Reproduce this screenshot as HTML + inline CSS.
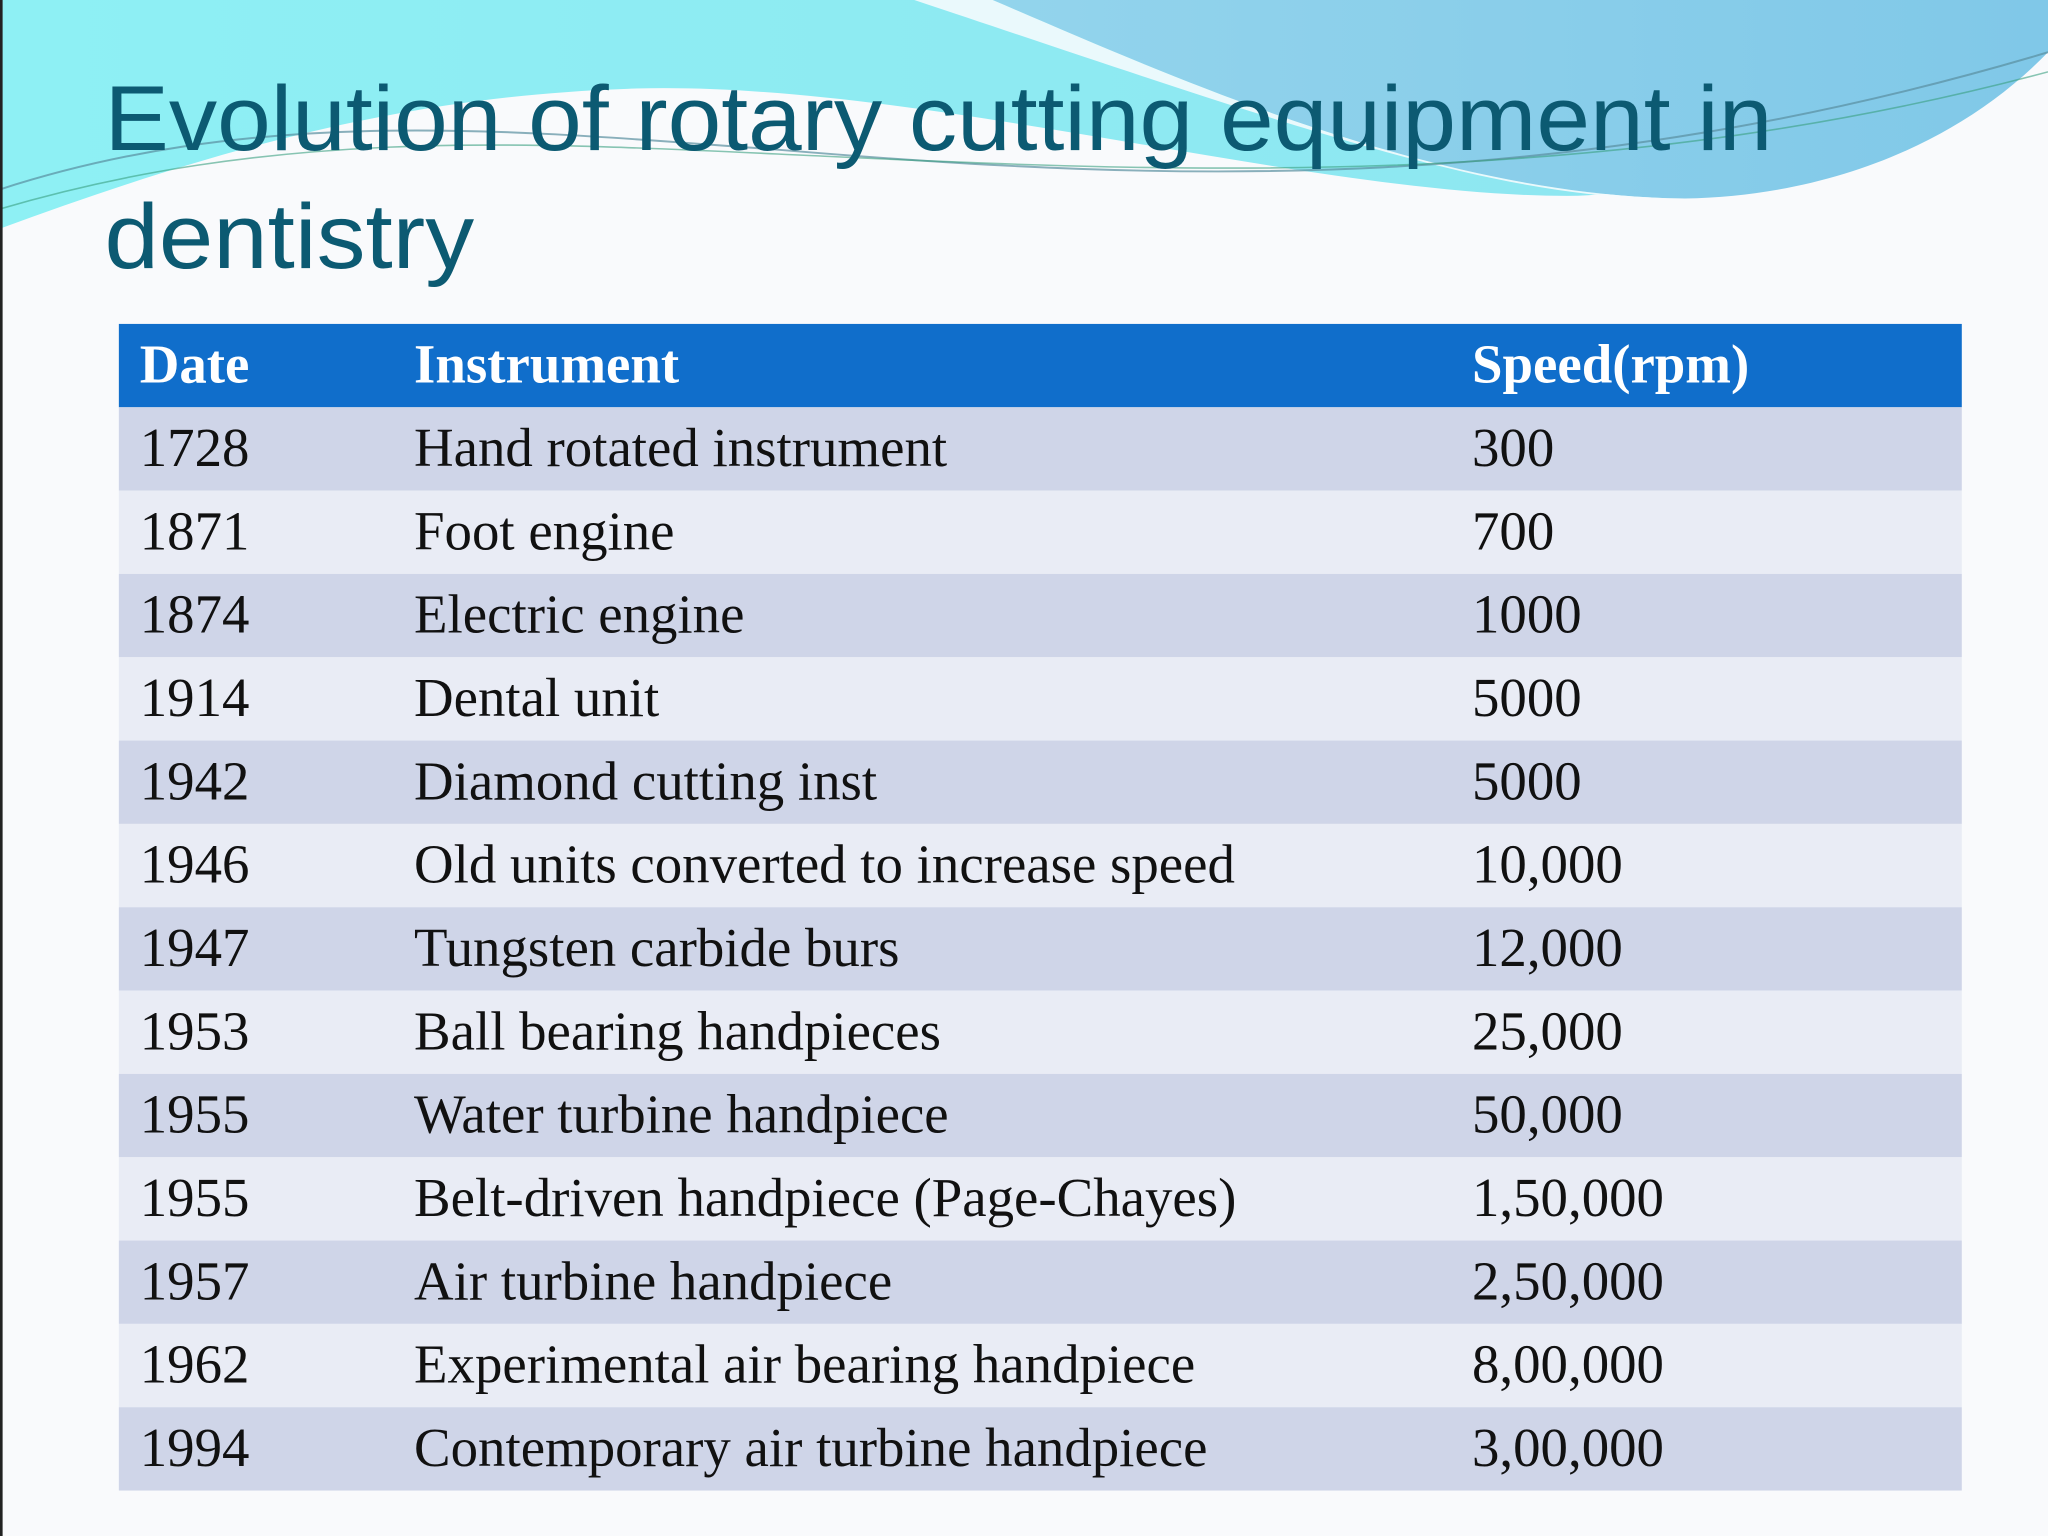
<!DOCTYPE html>
<html><head><meta charset="utf-8"><style>
html,body{margin:0;padding:0;background:#fff}
svg{display:block}
</style></head><body>
<svg id="slide" width="2048" height="1536" viewBox="0 0 1568 1176" xmlns="http://www.w3.org/2000/svg">
<defs>
<linearGradient id="cy" x1="0" y1="0" x2="1" y2="0"><stop offset="0" stop-color="#8ef0f4"/><stop offset="1" stop-color="#8ee4f0"/></linearGradient>
<linearGradient id="bl" x1="0" y1="0" x2="1" y2="0"><stop offset="0" stop-color="#93d4ec"/><stop offset="1" stop-color="#80c8e8"/></linearGradient>
</defs>
<rect width="1568" height="1176" fill="#f9fafc"/>
<path d="M0,0 L1568,0 L1568,30 C1400,90 1300,150 1200,150 C1000,150 700,60 480,68 C300,74 150,120 0,175 Z" fill="url(#cy)"/>
<path d="M760,0 L1568,0 L1568,40 C1500,110 1400,150 1290,152 C1100,150 900,60 760,0 Z" fill="url(#bl)"/>
<path d="M700,0 L760,0 C900,60 1100,150 1290,152 C1150,155 1000,100 700,0 Z" fill="#f4fbfd" opacity="0.9"/>
<path d="M0,145 C200,80 400,100 600,115 C900,140 1200,150 1568,40" fill="none" stroke="#5a8fa0" stroke-width="1.5" opacity="0.7"/>
<path d="M0,160 C220,95 420,110 640,120 C950,135 1250,140 1568,55" fill="none" stroke="#3aa080" stroke-width="1.2" opacity="0.6"/>
<rect x="0" y="0" width="2" height="1176" fill="#222"/>
<text x="80" y="115" font-family="Liberation Sans, sans-serif" font-size="70" fill="#0c5a72" textLength="1277" lengthAdjust="spacingAndGlyphs">Evolution of rotary cutting equipment in</text>
<text x="80" y="205" font-family="Liberation Sans, sans-serif" font-size="70" fill="#0c5a72" textLength="283" lengthAdjust="spacingAndGlyphs">dentistry</text>
<g id="tbl"></g>
</svg>
<script>
const headers = ["Date", "Instrument", "Speed(rpm)"];
const dates = ["1728","1871","1874","1914","1942","1946","1947","1953","1955","1955","1957","1962","1994"];
const instruments = ["Hand rotated instrument","Foot engine","Electric engine","Dental unit","Diamond cutting inst","Old units converted to increase speed","Tungsten carbide burs","Ball bearing handpieces","Water turbine handpiece","Belt-driven handpiece (Page-Chayes)","Air turbine handpiece","Experimental air bearing handpiece","Contemporary air turbine handpiece"];
const speeds = ["300","700","1000","5000","5000","10,000","12,000","25,000","50,000","1,50,000","2,50,000","8,00,000","3,00,000"];

const NS = "http://www.w3.org/2000/svg";
const g = document.getElementById('tbl');
const X0 = 91, X1 = 1502, TOP = 248, RH = 63.8;
const colX = [107, 317, 1127];
function mk(tag, attrs){const e=document.createElementNS(NS,tag);for(const k in attrs)e.setAttribute(k,attrs[k]);return e;}
const hdr = mk('rect',{x:X0,y:TOP,width:X1-X0,height:RH,fill:'#106ecb'});


g.appendChild(hdr);
headers.forEach((h,i)=>{
  const t = mk('text',{x:colX[i],y:TOP+45,'font-family':'Liberation Serif, serif','font-size':42,'font-weight':'bold',fill:'#fff'});
  t.textContent = h;
  
  
  g.appendChild(t);
});
dates.forEach((d,r)=>{
  const y = TOP + RH*(r+1);
  const row = mk('rect',{x:X0,y:y,width:X1-X0,height:RH,fill: r%2===0?'#cfd5e8':'#e9ecf5'});
  
  
  g.appendChild(row);
  [d, instruments[r], speeds[r]].forEach((v,i)=>{
    const t = mk('text',{x:colX[i],y:y+45,'font-family':'Liberation Serif, serif','font-size':42,fill:'#111'});
    t.textContent = v;
    
    
    g.appendChild(t);
  });
});
</script>
</body></html>
